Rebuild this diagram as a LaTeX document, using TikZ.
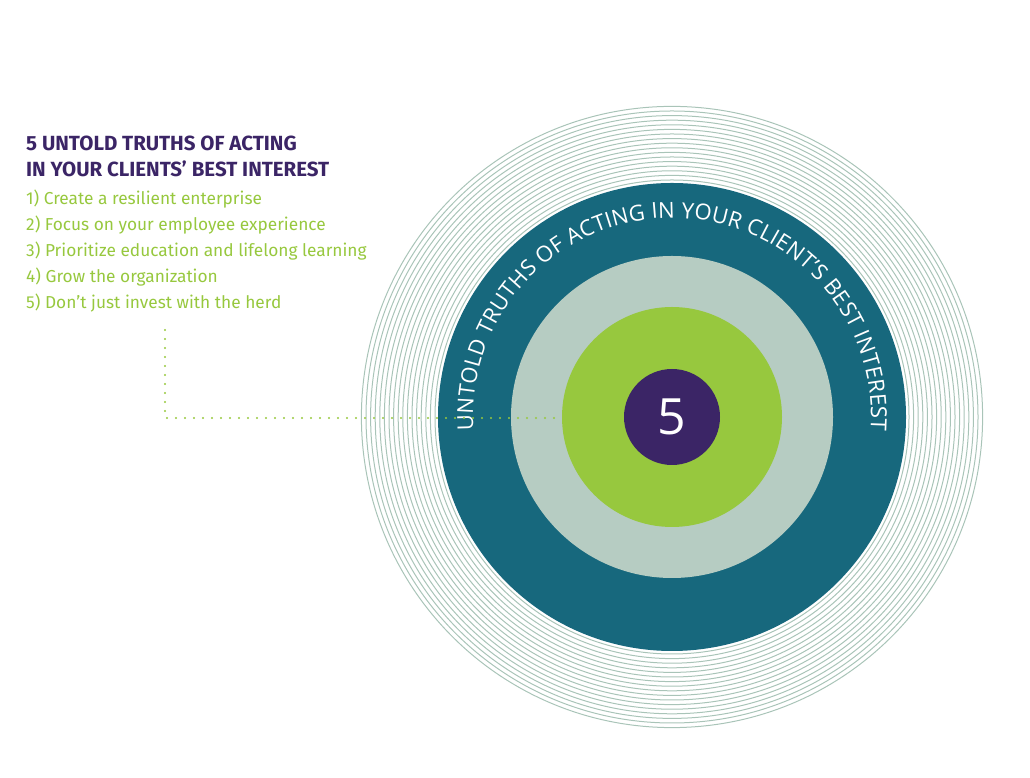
\documentclass[tikz,border=0pt]{standalone}
\usepackage{fontspec}
\setmainfont{Open Sans}
\newfontfamily\listfont{Fira Sans}
\usetikzlibrary{decorations.text}
\definecolor{teal}{HTML}{17687D}
\definecolor{sage}{HTML}{B6CCC2}
\definecolor{ring}{HTML}{A9C4B8}
\definecolor{lime}{HTML}{97C83E}
\definecolor{plum}{HTML}{3B2566}
\begin{document}
\begin{tikzpicture}[x=1pt,y=1pt,
  item/.style={anchor=west,text=lime,font=\listfont\fontsize{17.3}{19}\selectfont,inner sep=0pt},
  title/.style={anchor=west,text=plum,font=\listfont\fontsize{20.5}{23}\selectfont,inner sep=0pt}]
\useasboundingbox (0,0) rectangle (1030,778);
\coordinate (c) at (672,361);
\foreach \r in {237,241.6,...,314}{\draw[ring,line width=1pt] (c) circle (\r);}
\fill[teal] (c) circle (234);
\fill[sage] (c) circle (161);
\fill[lime] (c) circle (110);
\fill[plum] (c) circle (48);
\node[text=white,font=\fontsize{50}{50}\selectfont] (five) at (c) {5};
\path[decorate,decoration={text along path,text align={fit to path},
  text={|\color{white}\fontsize{22}{22}\selectfont|UNTOLD TRUTHS OF ACTING IN YOUR CLIENT’S BEST INTEREST}}]
  (c) ++(184:199) arc (184:-4:199);
\node[title] (t1) at (26,635) {\textbf{5 UNTOLD TRUTHS OF ACTING}};
\node[title] (t2) at (26,609) {\textbf{IN YOUR CLIENTS’ BEST INTEREST}};
\node[item] (i1) at (26,579) {1) Create a resilient enterprise};
\node[item] (i2) at (26,553) {2) Focus on your employee experience};
\node[item] (i3) at (26,527) {3) Prioritize education and lifelong learning};
\node[item] (i4) at (26,501) {4) Grow the organization};
\node[item] (i5) at (26,475) {5) Don’t just invest with the herd};
\coordinate (d0) at (165,448);
\coordinate (d1) at (165,360);
\coordinate (d2) at (560,360);
\draw[lime,line width=2.2pt,line cap=round,dash pattern=on 0pt off 9pt] (d0) -- (d1) -- (d2);
\end{tikzpicture}
\end{document}
